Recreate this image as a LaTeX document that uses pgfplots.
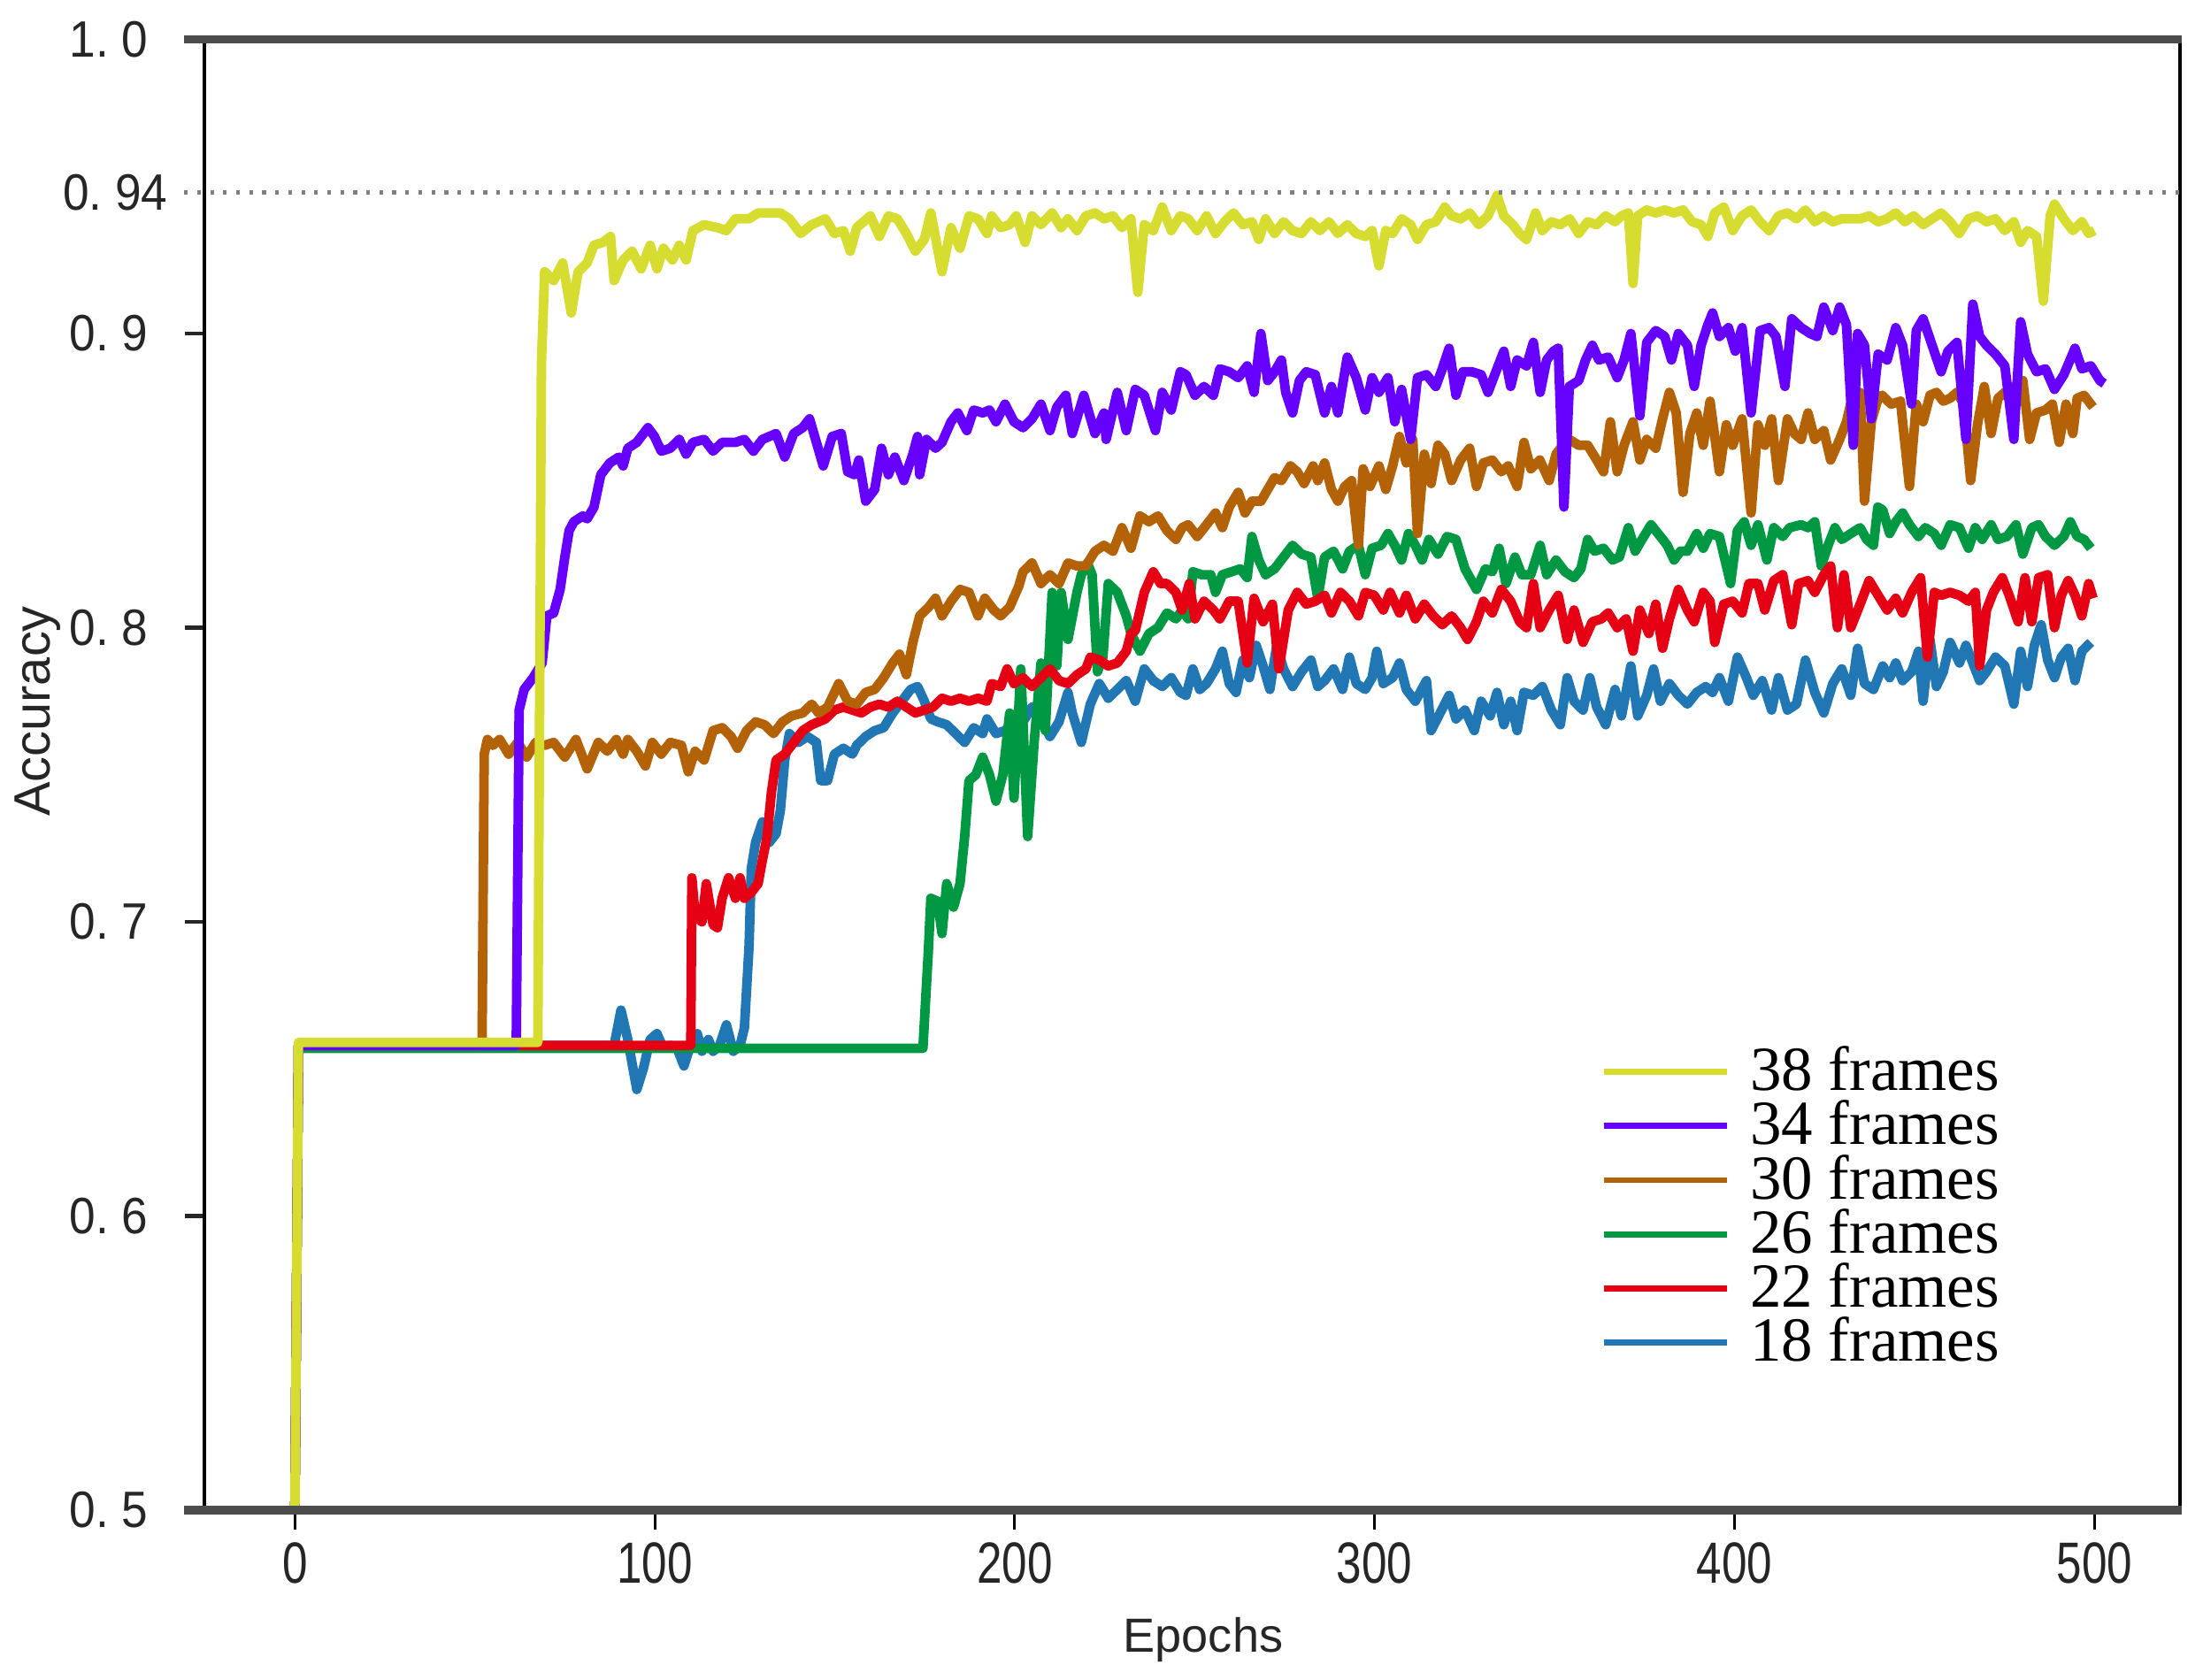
\documentclass[border=0pt]{standalone}
\usepackage{pgfplots}
\pgfplotsset{compat=1.18}
\usepackage{fontspec}
\setmainfont{Liberation Serif}
\newfontfamily\sansf{Liberation Sans}
\newfontfamily\xtf[FakeStretch=0.78]{Liberation Sans}
\newfontfamily\ytf[FakeStretch=0.92]{Liberation Sans}
\definecolor{c38}{RGB}{214,220,48}
\definecolor{c34}{RGB}{102,0,255}
\definecolor{c30}{RGB}{180,98,8}
\definecolor{c26}{RGB}{0,152,66}
\definecolor{c22}{RGB}{230,0,20}
\definecolor{c18}{RGB}{33,119,180}
\begin{document}
\begin{tikzpicture}
\begin{axis}[
  scale only axis, width=425.13pt, height=316.48pt,
  xmin=-25.22, xmax=523.77, ymin=0.5, ymax=1.0,
  axis line style={line width=0.7pt, black},
  tick pos=left,
  xtick={0,100,200,300,400,500},
  xticklabels={0,100,200,300,400,500},
  ytick={0.5,0.6,0.7,0.8,0.9,1.0},
  yticklabels={0.~5,0.~6,0.~7,0.~8,0.~9,1.~0},
  extra y ticks={0.948},
  extra y tick labels={0.~94},
  extra y tick style={major tick length=0pt},
  tick align=outside,
  major tick length=4.2pt,
  xtick style={line width=0.6pt, black},
  ytick style={line width=0.8pt, black!85},
  xticklabel style={font=\xtf\fontsize{12.5}{12.5}\selectfont, text=black!85, yshift=0.8pt},
  yticklabel style={font=\ytf\fontsize{11}{11}\selectfont, text=black!85, xshift=-4.3pt},
  xlabel={Epochs},
  ylabel={Accuracy},
  xlabel style={font=\sansf\fontsize{10.3}{10.3}\selectfont, text=black!85, at={(axis description cs:0.5,0)}, anchor=base, xshift=2.4pt, yshift=-30.5pt},
  ylabel style={font=\sansf\fontsize{11}{11}\selectfont, text=black!85, at={(axis description cs:-0.08405,0.5432)}, anchor=center},
  every axis plot/.append style={line width=2.05pt, line join=round, no markers},
  legend style={at={(axis description cs:0.7063,0.316)}, anchor=north west, draw=none, fill=none, inner sep=0pt, row sep=0.65pt,
    font=\fontsize{13.5}{13.5}\selectfont, nodes={inner sep=0pt}},
  legend cell align=left,
  legend image code/.code={\draw[#1, line width=1.3pt] (0pt,0pt) -- (26.6pt,0pt); \path (30.5pt,0pt);},
  after end axis/.code={
    \draw[line width=1.8pt, black!70] ([xshift=-4.3pt]rel axis cs:0,0) -- ([xshift=0.35pt]rel axis cs:1,0);
    \draw[line width=1.8pt, black!70] ([xshift=-4.3pt]rel axis cs:0,1) -- ([xshift=0.35pt]rel axis cs:1,1);
    \draw[black!50, line width=0.8pt, dash pattern=on 0.8pt off 2pt] ([xshift=-4.3pt]axis cs:-25.22,0.948) -- (axis cs:523.77,0.948);
  },
]
% 18 frames
\addplot[c18, forget plot] coordinates {(0,0.5)(1,0.658)(88.7,0.658)(90.6,0.670)(92.5,0.660)(95.0,0.643)(96.8,0.650)(98.7,0.660)(100.6,0.662)(102.4,0.657)(104.3,0.658)(106.2,0.657)(108.1,0.651)(109.9,0.658)(111.8,0.662)(113.1,0.656)(114.9,0.660)(116.2,0.656)(118.0,0.658)(119.9,0.665)(121.8,0.656)(123.7,0.658)(124.9,0.664)(126.2,0.692)(126.8,0.718)(128.0,0.727)(129.9,0.734)(131.8,0.727)(133.7,0.730)(134.9,0.738)(136.1,0.755)(137.4,0.764)(139.9,0.761)(142.4,0.763)(144.9,0.761)(146.1,0.748)(148.0,0.748)(149.9,0.757)(152.4,0.759)(154.9,0.757)(156.1,0.760)(158.6,0.763)(161.1,0.765)(163.6,0.766)(166.1,0.771)(168.6,0.775)(171.1,0.779)(173.0,0.780)(174.9,0.775)(176.7,0.769)(178.6,0.768)(181.1,0.767)(183.6,0.764)(186.1,0.761)(188.6,0.766)(191.1,0.764)(192.3,0.769)(194.8,0.764)(197.3,0.765)(199.8,0.768)(202.3,0.768)(204.8,0.773)(207.3,0.769)(209.8,0.763)(212.3,0.768)(214.8,0.778)(216.0,0.771)(218.5,0.761)(221.0,0.774)(223.5,0.781)(226.0,0.776)(228.5,0.779)(231.0,0.782)(233.5,0.775)(236.0,0.786)(238.5,0.782)(241.0,0.780)(243.5,0.783)(246.0,0.778)(247.6,0.777)(249.5,0.786)(251.4,0.779)(253.3,0.781)(255.8,0.786)(257.7,0.792)(259.6,0.781)(261.5,0.778)(263.4,0.789)(265.2,0.783)(267.1,0.794)(269.0,0.787)(270.9,0.779)(272.8,0.794)(274.7,0.786)(277.2,0.780)(279.7,0.785)(282.3,0.789)(284.2,0.780)(286.1,0.782)(288.6,0.786)(291.1,0.779)(293.0,0.790)(294.9,0.781)(297.4,0.779)(299.3,0.783)(300.6,0.792)(302.4,0.781)(305.0,0.783)(306.9,0.788)(308.8,0.779)(311.3,0.775)(314.4,0.782)(315.7,0.765)(318.2,0.771)(320.7,0.777)(322.6,0.769)(325.1,0.772)(327.7,0.765)(329.6,0.775)(332.1,0.770)(334.0,0.778)(335.9,0.767)(337.8,0.775)(339.6,0.765)(341.5,0.778)(344.1,0.777)(346.6,0.780)(349.1,0.772)(351.6,0.767)(353.5,0.783)(355.4,0.775)(357.9,0.772)(359.8,0.783)(361.7,0.773)(364.2,0.767)(366.8,0.779)(368.6,0.770)(371.2,0.787)(373.1,0.770)(375.6,0.777)(377.5,0.786)(379.4,0.775)(381.9,0.781)(384.4,0.777)(386.9,0.774)(389.5,0.778)(392.0,0.780)(393.9,0.778)(395.8,0.783)(398.3,0.775)(400.8,0.790)(403.3,0.783)(405.2,0.777)(407.7,0.782)(410.3,0.772)(412.2,0.783)(414.7,0.772)(417.2,0.774)(419.7,0.789)(422.3,0.778)(424.8,0.771)(427.3,0.781)(429.8,0.786)(432.3,0.777)(434.2,0.793)(436.1,0.781)(438.6,0.779)(441.2,0.787)(443.1,0.783)(444.8,0.788)(446.7,0.782)(449.2,0.785)(451.1,0.792)(452.4,0.775)(454.3,0.796)(456.1,0.780)(458.0,0.785)(459.9,0.795)(462.5,0.788)(464.3,0.794)(466.2,0.788)(468.1,0.782)(470.0,0.785)(472.5,0.790)(475.1,0.787)(477.6,0.774)(479.5,0.792)(481.4,0.780)(483.3,0.794)(485.2,0.801)(487.0,0.789)(488.9,0.783)(490.8,0.790)(492.7,0.793)(494.6,0.782)(496.5,0.792)(499.0,0.795)};
% 26 frames
\addplot[c26, forget plot] coordinates {(0,0.5)(1,0.657)(174.5,0.657)(176.0,0.690)(176.7,0.708)(178.6,0.707)(179.8,0.696)(181.1,0.713)(183.0,0.705)(184.8,0.713)(186.1,0.729)(187.3,0.748)(189.2,0.750)(191.1,0.756)(193.0,0.750)(194.8,0.741)(196.7,0.750)(198.6,0.771)(199.8,0.742)(201.7,0.786)(203.6,0.729)(205.4,0.761)(207.3,0.788)(208.5,0.765)(210.4,0.812)(211.7,0.787)(212.9,0.812)(214.8,0.796)(217.3,0.812)(218.5,0.818)(220.2,0.822)(221.5,0.818)(223.0,0.785)(224.5,0.790)(226.0,0.815)(228.5,0.812)(231.0,0.804)(232.3,0.798)(234.8,0.792)(237.3,0.798)(239.8,0.800)(242.3,0.805)(244.8,0.803)(246.5,0.806)(248.2,0.803)(249.5,0.819)(252.0,0.818)(254.5,0.818)(255.8,0.812)(257.7,0.818)(260.2,0.819)(262.7,0.820)(264.6,0.817)(265.9,0.831)(267.8,0.823)(269.7,0.818)(272.2,0.820)(274.7,0.824)(277.2,0.828)(279.7,0.825)(282.3,0.824)(284.2,0.810)(286.1,0.824)(288.6,0.826)(291.1,0.820)(293.0,0.826)(295.5,0.828)(297.4,0.818)(299.3,0.827)(301.8,0.828)(303.7,0.832)(305.6,0.828)(307.5,0.823)(309.4,0.832)(311.3,0.828)(313.2,0.823)(315.1,0.830)(317.6,0.825)(320.1,0.831)(322.6,0.830)(325.1,0.820)(328.3,0.813)(330.8,0.820)(332.7,0.819)(334.6,0.827)(336.5,0.815)(339.0,0.824)(340.9,0.818)(343.4,0.818)(346.0,0.828)(347.8,0.818)(350.4,0.823)(352.9,0.819)(355.4,0.817)(357.3,0.820)(359.2,0.830)(361.1,0.826)(363.6,0.827)(366.1,0.823)(368.0,0.824)(370.5,0.834)(372.4,0.826)(374.3,0.830)(376.8,0.835)(379.4,0.831)(381.3,0.828)(383.2,0.823)(385.0,0.826)(386.9,0.826)(389.5,0.832)(391.3,0.827)(393.2,0.832)(395.8,0.831)(398.9,0.815)(400.8,0.833)(402.7,0.836)(404.6,0.828)(406.5,0.835)(409.0,0.823)(410.9,0.834)(413.4,0.831)(415.3,0.834)(418.5,0.835)(420.4,0.834)(422.3,0.836)(424.1,0.821)(426.0,0.828)(427.9,0.834)(429.8,0.830)(432.3,0.832)(434.9,0.834)(436.7,0.830)(438.6,0.828)(439.8,0.841)(441.2,0.840)(443.1,0.832)(444.8,0.836)(446.7,0.839)(448.6,0.835)(451.1,0.831)(453.0,0.834)(455.5,0.832)(457.4,0.828)(459.9,0.835)(462.5,0.834)(465.0,0.827)(466.9,0.834)(468.8,0.830)(471.3,0.835)(473.2,0.830)(475.7,0.831)(478.2,0.835)(480.1,0.825)(482.6,0.834)(484.5,0.835)(486.4,0.831)(488.9,0.828)(491.5,0.831)(493.3,0.836)(495.2,0.831)(497.1,0.830)(499.0,0.827)};
% 22 frames
\addplot[c22, forget plot] coordinates {(0,0.5)(1,0.658)(110.0,0.658)(110.3,0.715)(111.2,0.702)(113.1,0.700)(114.3,0.713)(116.2,0.699)(117.4,0.698)(118.7,0.708)(120.5,0.715)(122.4,0.708)(123.7,0.715)(124.9,0.708)(126.8,0.710)(128.7,0.713)(129.9,0.721)(131.2,0.729)(132.4,0.744)(133.7,0.755)(136.1,0.757)(138.6,0.761)(141.1,0.765)(143.6,0.767)(147.4,0.769)(149.9,0.772)(152.4,0.773)(154.9,0.772)(157.4,0.771)(159.9,0.773)(162.4,0.774)(164.9,0.773)(167.4,0.775)(169.9,0.773)(172.4,0.771)(174.9,0.772)(177.3,0.773)(179.8,0.776)(182.3,0.775)(184.8,0.776)(187.3,0.775)(189.8,0.776)(192.3,0.775)(193.6,0.781)(196.1,0.780)(197.9,0.786)(199.8,0.781)(202.3,0.783)(204.8,0.780)(207.3,0.783)(209.8,0.786)(212.3,0.782)(214.8,0.781)(217.3,0.784)(219.8,0.786)(221.0,0.790)(223.5,0.789)(226.0,0.787)(228.5,0.788)(231.0,0.792)(232.3,0.798)(233.5,0.799)(236.0,0.812)(238.5,0.819)(240.5,0.815)(242.3,0.815)(244.8,0.812)(246.5,0.806)(248.5,0.815)(250.1,0.803)(252.6,0.809)(255.2,0.806)(257.0,0.803)(259.6,0.809)(262.1,0.809)(264.6,0.788)(266.5,0.810)(269.0,0.802)(271.6,0.808)(273.4,0.786)(276.0,0.806)(278.5,0.812)(281.0,0.808)(283.5,0.809)(286.1,0.811)(288.0,0.805)(290.5,0.812)(293.0,0.809)(295.5,0.804)(297.4,0.812)(299.9,0.811)(302.4,0.806)(304.3,0.812)(306.9,0.805)(308.8,0.811)(311.3,0.803)(313.8,0.808)(316.3,0.804)(318.8,0.801)(321.4,0.804)(323.9,0.800)(325.8,0.796)(328.3,0.802)(330.2,0.809)(332.7,0.805)(335.2,0.813)(337.8,0.809)(340.3,0.802)(342.2,0.800)(344.1,0.815)(346.0,0.800)(348.5,0.806)(351.0,0.811)(353.5,0.796)(355.4,0.806)(357.9,0.795)(360.5,0.802)(363.0,0.803)(364.9,0.805)(367.4,0.800)(369.9,0.803)(371.8,0.792)(373.7,0.806)(376.2,0.798)(378.1,0.808)(380.0,0.793)(381.9,0.803)(384.4,0.813)(386.9,0.806)(388.8,0.802)(391.3,0.812)(393.2,0.809)(394.5,0.795)(397.0,0.808)(399.5,0.809)(402.1,0.805)(404.0,0.815)(406.5,0.815)(408.4,0.806)(410.9,0.816)(413.4,0.818)(415.9,0.801)(417.8,0.815)(420.4,0.816)(422.3,0.812)(424.8,0.818)(426.7,0.821)(428.6,0.800)(430.4,0.818)(432.3,0.800)(434.9,0.808)(437.4,0.816)(439.9,0.811)(442.4,0.806)(444.8,0.810)(446.7,0.805)(449.2,0.812)(451.7,0.817)(453.6,0.790)(455.5,0.812)(457.4,0.811)(459.9,0.812)(462.5,0.811)(465.0,0.809)(466.9,0.812)(468.1,0.787)(470.0,0.806)(471.9,0.812)(474.4,0.817)(476.3,0.811)(478.8,0.802)(480.7,0.817)(482.6,0.802)(484.5,0.817)(487.0,0.818)(488.9,0.800)(490.8,0.811)(492.7,0.816)(494.6,0.811)(496.5,0.804)(498.4,0.815)(499.6,0.810)};
% 30 frames
\addplot[c30, forget plot] coordinates {(0,0.5)(1,0.658)(52.0,0.658)(52.6,0.757)(53.5,0.762)(55.0,0.760)(56.9,0.762)(59.4,0.757)(61.9,0.761)(64.4,0.756)(66.9,0.761)(69.4,0.760)(71.9,0.761)(75.0,0.756)(78.1,0.762)(81.2,0.752)(84.3,0.761)(86.8,0.758)(89.3,0.762)(91.2,0.757)(92.5,0.762)(95.0,0.758)(97.4,0.753)(99.3,0.761)(101.8,0.757)(104.3,0.761)(107.4,0.760)(109.3,0.751)(111.2,0.758)(113.7,0.755)(116.2,0.765)(118.7,0.766)(121.2,0.763)(123.0,0.759)(125.5,0.765)(128.0,0.768)(130.5,0.767)(133.0,0.764)(135.5,0.768)(138.0,0.770)(141.1,0.771)(143.6,0.774)(145.5,0.771)(148.0,0.773)(151.1,0.781)(153.6,0.775)(156.1,0.774)(158.6,0.778)(161.1,0.779)(163.6,0.783)(166.1,0.788)(168.0,0.791)(169.9,0.784)(171.7,0.795)(173.6,0.804)(176.1,0.807)(178.0,0.810)(179.8,0.804)(182.3,0.809)(184.8,0.813)(187.3,0.812)(189.8,0.804)(191.7,0.810)(194.2,0.806)(196.1,0.804)(198.6,0.807)(201.1,0.814)(202.3,0.819)(204.8,0.822)(207.3,0.815)(209.8,0.818)(212.3,0.815)(214.8,0.822)(217.3,0.821)(219.8,0.821)(222.3,0.826)(224.8,0.828)(227.3,0.826)(229.8,0.834)(232.3,0.827)(234.8,0.838)(237.3,0.836)(239.8,0.838)(242.3,0.833)(244.8,0.830)(246.5,0.834)(248.2,0.835)(250.7,0.831)(253.3,0.835)(255.8,0.839)(257.7,0.834)(259.6,0.841)(262.1,0.846)(264.0,0.839)(265.9,0.843)(268.4,0.843)(270.3,0.847)(272.2,0.851)(274.1,0.850)(276.6,0.855)(278.5,0.853)(280.4,0.849)(282.9,0.855)(284.2,0.850)(286.1,0.856)(288.0,0.847)(289.8,0.843)(291.7,0.848)(293.6,0.850)(295.5,0.828)(296.8,0.854)(298.7,0.848)(301.2,0.855)(303.1,0.847)(305.0,0.855)(306.9,0.865)(308.8,0.856)(310.6,0.864)(311.9,0.832)(313.8,0.859)(315.7,0.849)(317.6,0.862)(319.5,0.859)(321.4,0.850)(323.9,0.857)(326.4,0.861)(328.3,0.848)(330.2,0.856)(332.7,0.857)(335.2,0.853)(337.1,0.855)(339.6,0.848)(341.5,0.863)(343.4,0.854)(345.9,0.857)(348.5,0.850)(350.4,0.859)(352.3,0.862)(354.1,0.864)(356.7,0.862)(359.2,0.862)(361.7,0.857)(363.6,0.853)(365.5,0.870)(367.4,0.853)(369.3,0.862)(371.8,0.870)(373.7,0.857)(375.6,0.864)(378.1,0.861)(380.0,0.871)(381.9,0.880)(383.8,0.873)(385.7,0.846)(387.6,0.866)(389.5,0.873)(391.3,0.862)(393.2,0.877)(395.8,0.853)(397.7,0.869)(399.5,0.862)(402.1,0.871)(404.6,0.839)(406.5,0.869)(408.4,0.862)(410.3,0.871)(412.2,0.850)(414.7,0.871)(416.6,0.866)(418.5,0.864)(420.4,0.873)(422.3,0.864)(424.8,0.867)(426.7,0.857)(429.2,0.864)(431.1,0.870)(433.0,0.880)(434.9,0.880)(436.1,0.843)(438.0,0.870)(439.9,0.878)(441.0,0.879)(443.5,0.876)(446.1,0.877)(448.6,0.848)(450.5,0.876)(452.4,0.870)(454.3,0.879)(456.1,0.880)(458.0,0.877)(459.9,0.878)(461.8,0.880)(463.7,0.876)(465.6,0.850)(467.5,0.869)(469.4,0.882)(471.3,0.866)(473.2,0.878)(475.1,0.880)(477.6,0.882)(480.1,0.884)(482.0,0.864)(483.9,0.873)(486.4,0.874)(488.3,0.876)(490.2,0.863)(492.1,0.876)(494.0,0.866)(495.2,0.878)(497.1,0.879)(499.6,0.875)};
% 34 frames
\addplot[c34, forget plot] coordinates {(0,0.5)(1,0.658)(61.5,0.658)(62.3,0.772)(63.7,0.779)(66.2,0.783)(68.7,0.788)(70.0,0.804)(71.9,0.805)(73.7,0.813)(75.0,0.824)(76.2,0.833)(77.5,0.836)(80.0,0.838)(81.2,0.837)(83.1,0.841)(85.0,0.852)(87.5,0.856)(90.0,0.858)(91.2,0.855)(92.5,0.861)(95.0,0.863)(98.1,0.868)(99.9,0.865)(101.8,0.860)(104.3,0.861)(106.8,0.864)(108.7,0.859)(110.6,0.863)(113.7,0.864)(116.2,0.860)(118.7,0.863)(122.4,0.863)(124.9,0.864)(127.4,0.860)(129.9,0.864)(133.7,0.866)(136.1,0.858)(138.6,0.866)(141.1,0.868)(143.0,0.871)(144.9,0.863)(146.8,0.855)(149.3,0.865)(151.8,0.866)(153.6,0.853)(155.5,0.852)(156.7,0.857)(158.6,0.843)(161.1,0.847)(163.0,0.861)(164.9,0.852)(166.7,0.858)(169.2,0.850)(171.7,0.859)(173.0,0.865)(173.6,0.852)(175.5,0.864)(178.0,0.861)(179.8,0.863)(182.3,0.870)(184.2,0.873)(186.7,0.867)(188.6,0.874)(191.1,0.873)(193.0,0.874)(194.8,0.870)(197.3,0.876)(199.8,0.870)(202.3,0.868)(204.8,0.871)(207.3,0.876)(209.8,0.867)(211.7,0.875)(214.2,0.879)(216.0,0.866)(219.2,0.879)(222.3,0.866)(224.8,0.873)(225.4,0.864)(228.5,0.880)(231.0,0.867)(233.5,0.881)(236.0,0.879)(239.1,0.867)(241.0,0.880)(243.5,0.874)(246.0,0.887)(247.6,0.886)(250.1,0.879)(252.6,0.882)(255.2,0.879)(257.0,0.888)(259.6,0.887)(262.1,0.885)(264.6,0.889)(266.5,0.880)(268.4,0.900)(270.3,0.884)(272.2,0.887)(274.1,0.891)(275.3,0.880)(277.2,0.873)(279.1,0.884)(281.0,0.887)(283.5,0.886)(286.1,0.873)(288.0,0.882)(289.8,0.873)(292.4,0.892)(294.9,0.885)(297.4,0.874)(299.3,0.885)(301.2,0.880)(303.7,0.885)(305.6,0.870)(307.5,0.881)(310.0,0.864)(311.9,0.885)(314.4,0.886)(317.0,0.882)(318.8,0.888)(320.7,0.895)(322.6,0.879)(324.5,0.887)(327.0,0.887)(329.6,0.886)(331.5,0.880)(334.0,0.888)(335.9,0.894)(337.8,0.882)(339.6,0.891)(342.2,0.889)(344.1,0.897)(346.0,0.880)(347.8,0.891)(349.7,0.894)(351.0,0.895)(352.6,0.841)(354.1,0.882)(356.7,0.884)(358.6,0.891)(360.5,0.896)(362.3,0.891)(364.9,0.892)(367.4,0.885)(369.3,0.891)(371.2,0.900)(373.7,0.872)(375.6,0.897)(378.1,0.901)(380.6,0.899)(382.5,0.891)(384.4,0.900)(386.9,0.896)(388.8,0.882)(390.7,0.896)(392.6,0.903)(393.9,0.907)(395.8,0.899)(398.3,0.902)(400.2,0.894)(402.1,0.902)(404.6,0.873)(407.1,0.901)(409.6,0.902)(411.5,0.899)(414.0,0.882)(415.9,0.905)(418.5,0.902)(421.0,0.900)(422.9,0.899)(424.8,0.909)(427.3,0.901)(429.2,0.909)(431.1,0.903)(433.0,0.862)(434.2,0.900)(436.1,0.896)(438.0,0.871)(439.9,0.893)(442.4,0.891)(444.8,0.902)(446.7,0.896)(449.2,0.876)(450.5,0.901)(452.4,0.905)(454.9,0.896)(457.4,0.887)(459.3,0.894)(461.8,0.897)(464.3,0.864)(466.2,0.910)(468.1,0.899)(470.0,0.896)(472.5,0.893)(475.1,0.889)(477.6,0.864)(479.5,0.904)(481.4,0.893)(483.9,0.887)(486.4,0.888)(488.9,0.881)(491.5,0.886)(494.6,0.895)(496.5,0.888)(499.0,0.889)(501.5,0.884)(502.7,0.883)};
% 38 frames
\addplot[c38, forget plot] coordinates {(0,0.5)(1,0.659)(67.5,0.659)(68.5,0.890)(69.4,0.921)(71.9,0.918)(74.4,0.924)(76.8,0.907)(78.7,0.921)(81.2,0.924)(83.1,0.930)(85.6,0.931)(87.7,0.933)(88.7,0.918)(91.2,0.925)(93.7,0.928)(96.2,0.922)(98.7,0.930)(100.6,0.922)(102.4,0.929)(104.9,0.925)(106.8,0.930)(108.7,0.925)(110.6,0.935)(113.7,0.937)(117.4,0.936)(119.9,0.935)(122.4,0.939)(126.2,0.939)(128.7,0.941)(132.4,0.941)(134.9,0.941)(137.4,0.939)(140.5,0.934)(143.6,0.937)(147.4,0.939)(149.9,0.934)(152.4,0.935)(154.3,0.928)(156.1,0.936)(159.9,0.940)(162.4,0.933)(164.9,0.940)(167.4,0.939)(169.9,0.934)(172.4,0.928)(174.9,0.932)(176.7,0.941)(179.8,0.921)(182.3,0.936)(184.8,0.929)(187.3,0.940)(189.8,0.939)(192.3,0.934)(193.6,0.940)(196.1,0.936)(198.6,0.937)(200.4,0.940)(202.9,0.931)(204.8,0.940)(207.3,0.937)(210.4,0.941)(212.9,0.936)(214.8,0.939)(217.3,0.935)(219.8,0.940)(222.3,0.941)(224.8,0.939)(227.3,0.940)(229.8,0.936)(232.3,0.939)(234.2,0.914)(236.0,0.937)(238.5,0.935)(241.0,0.943)(243.5,0.935)(246.0,0.940)(248.2,0.939)(250.7,0.935)(253.3,0.940)(255.8,0.934)(258.3,0.938)(260.8,0.941)(263.4,0.937)(265.9,0.938)(267.8,0.932)(269.7,0.939)(272.2,0.934)(274.7,0.938)(277.2,0.935)(279.7,0.934)(282.3,0.938)(284.8,0.935)(287.3,0.938)(289.8,0.934)(292.4,0.937)(294.9,0.934)(297.4,0.933)(299.3,0.935)(301.2,0.923)(303.1,0.935)(305.0,0.934)(307.5,0.939)(310.0,0.937)(311.9,0.932)(314.4,0.937)(317.0,0.938)(319.5,0.943)(321.4,0.940)(323.9,0.939)(326.4,0.941)(328.9,0.937)(331.5,0.940)(334.0,0.947)(335.9,0.940)(338.4,0.937)(340.3,0.934)(342.2,0.932)(344.7,0.941)(346.6,0.935)(349.1,0.938)(351.6,0.937)(354.2,0.939)(356.7,0.934)(359.2,0.938)(361.7,0.937)(364.2,0.940)(366.8,0.938)(368.6,0.940)(370.5,0.941)(371.8,0.917)(373.1,0.940)(375.6,0.942)(378.1,0.941)(380.6,0.942)(383.2,0.941)(385.7,0.942)(388.2,0.938)(390.7,0.937)(392.6,0.933)(394.5,0.941)(397.0,0.943)(399.5,0.935)(402.1,0.940)(404.6,0.942)(407.1,0.938)(409.6,0.935)(412.2,0.940)(414.7,0.941)(417.2,0.939)(419.7,0.942)(422.3,0.938)(424.8,0.940)(427.3,0.938)(429.8,0.939)(432.3,0.939)(434.9,0.939)(437.4,0.940)(439.9,0.938)(442.3,0.939)(444.8,0.941)(447.3,0.938)(449.8,0.940)(452.4,0.937)(454.9,0.939)(457.4,0.941)(459.9,0.938)(462.4,0.934)(465.0,0.939)(467.5,0.940)(470.0,0.938)(472.5,0.939)(475.1,0.935)(477.6,0.938)(479.5,0.931)(481.4,0.935)(483.9,0.933)(485.8,0.911)(487.7,0.940)(488.9,0.944)(491.5,0.939)(494.0,0.935)(496.5,0.938)(498.4,0.934)(500.0,0.935)};
\addlegendimage{c38}\addlegendentry{38 frames}
\addlegendimage{c34}\addlegendentry{34 frames}
\addlegendimage{c30}\addlegendentry{30 frames}
\addlegendimage{c26}\addlegendentry{26 frames}
\addlegendimage{c22}\addlegendentry{22 frames}
\addlegendimage{c18}\addlegendentry{18 frames}
\end{axis}
\pgfresetboundingbox
\path ([shift={(-43.92pt,-36.36pt)}]current axis.south west) rectangle ([shift={(4.95pt,8.47pt)}]current axis.north east);
\end{tikzpicture}
\end{document}
